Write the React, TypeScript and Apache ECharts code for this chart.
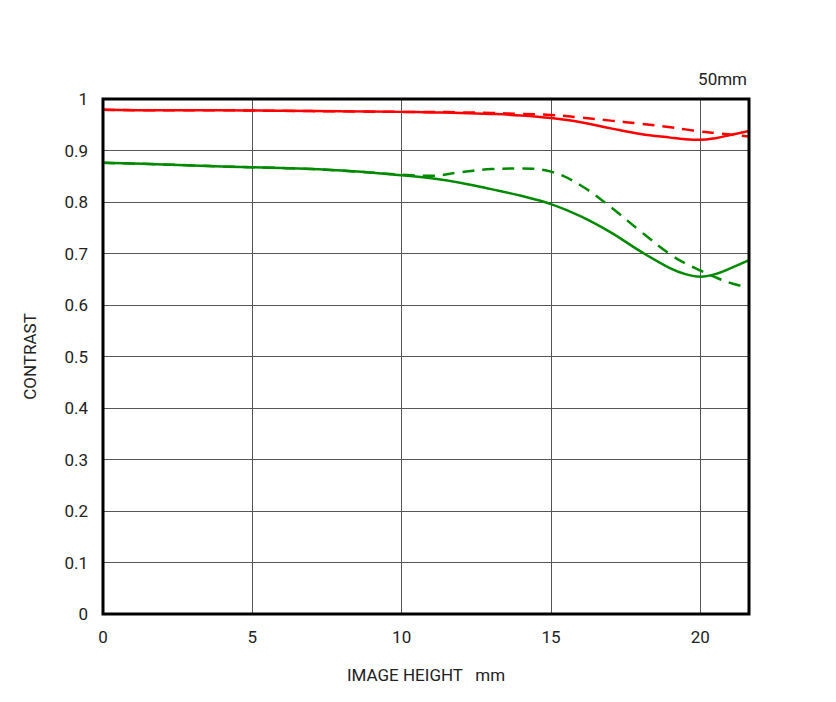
import React, { useEffect, useRef } from "react";
import * as echarts from "echarts";

const xs = [0, 2, 4, 6, 8, 10, 11, 12, 13, 14, 15, 16, 17, 18, 19, 19.5, 20, 20.5, 21, 21.63];
const redSolid = [0.979, 0.978, 0.978, 0.977, 0.976, 0.975, 0.974, 0.973, 0.971, 0.968, 0.963, 0.955, 0.943, 0.932, 0.925, 0.922, 0.921, 0.924, 0.930, 0.938];
const redDashed = [0.979, 0.978, 0.978, 0.977, 0.976, 0.975, 0.975, 0.974, 0.973, 0.971, 0.969, 0.964, 0.958, 0.952, 0.945, 0.941, 0.937, 0.934, 0.931, 0.927];
const greenSolid = [0.876, 0.873, 0.869, 0.866, 0.861, 0.852, 0.846, 0.837, 0.825, 0.812, 0.796, 0.772, 0.741, 0.704, 0.671, 0.660, 0.655, 0.660, 0.671, 0.687];
const greenDashed = [0.876, 0.873, 0.869, 0.866, 0.861, 0.853, 0.851, 0.858, 0.864, 0.865, 0.859, 0.832, 0.790, 0.743, 0.698, 0.681, 0.667, 0.654, 0.643, 0.633];

const title = "50mm";
const xName = "IMAGE HEIGHT   mm";
const yName = "CONTRAST";
const xMax = 21.63;

const FONT = "Roboto, 'Liberation Sans', sans-serif";
const RED = "#ff0000";
const GREEN = "#008a00";

const pairs = (ys: number[]) => xs.map((x, i) => [x, ys[i]]);

const GL = 95;
const GT = 91;
const GW = 646;
const GH = 515;
const W = 820;
const H = 686;

export default function App() {
  const ref = useRef<HTMLDivElement>(null);
  useEffect(() => {
    if (!ref.current) return;
    const chart = echarts.init(ref.current, null, { renderer: "svg" });
    const line = (name: string, ys: number[], color: string, dashed: boolean) => ({
      name,
      type: "line",
      data: pairs(ys),
      smooth: 0.4,
      showSymbol: false,
      symbol: "none",
      lineStyle: { color, width: 2.5, type: dashed ? [12, 8] : "solid" },
      z: 5,
    });
    chart.setOption({
      animation: false,
      title: {
        text: title,
        right: 81,
        top: 62,
        textStyle: { fontFamily: FONT, fontSize: 17, fontWeight: "normal", color: "#222" },
        padding: 0,
      },
      grid: { left: GL, top: GT, right: W - GL - GW, bottom: H - GT - GH },
      xAxis: {
        type: "value",
        min: 0,
        max: xMax,
        interval: 5,
        name: xName,
        nameLocation: "middle",
        nameGap: 52,
        nameTextStyle: { fontFamily: FONT, fontSize: 17, color: "#222" },
        axisLine: { show: false },
        axisTick: { show: false },
        axisLabel: { showMaxLabel: false, fontFamily: FONT, fontSize: 17, color: "#222", margin: 14 },
        splitLine: { show: true, lineStyle: { color: "#555", width: 1 } },
      },
      yAxis: {
        type: "value",
        min: 0,
        max: 1,
        interval: 0.1,
        name: yName,
        nameLocation: "middle",
        nameGap: 65,
        nameRotate: 90,
        nameTextStyle: { fontFamily: FONT, fontSize: 17, color: "#222" },
        axisLine: { show: false },
        axisTick: { show: false },
        axisLabel: { fontFamily: FONT, fontSize: 17, color: "#222", margin: 15 },
        splitLine: { show: true, lineStyle: { color: "#555", width: 1 } },
      },
      graphic: [
        {
          type: "rect",
          shape: { x: GL, y: GT, width: GW, height: GH },
          style: { fill: "none", stroke: "#000", lineWidth: 3 },
          z: 100,
          silent: true,
        },
      ],
      series: [
        line("red-dashed", redDashed, RED, true),
        line("red-solid", redSolid, RED, false),
        line("green-dashed", greenDashed, GREEN, true),
        line("green-solid", greenSolid, GREEN, false),
      ],
    });
    return () => chart.dispose();
  }, []);
  return <div ref={ref} style={{ width: W, height: H }} />;
}
